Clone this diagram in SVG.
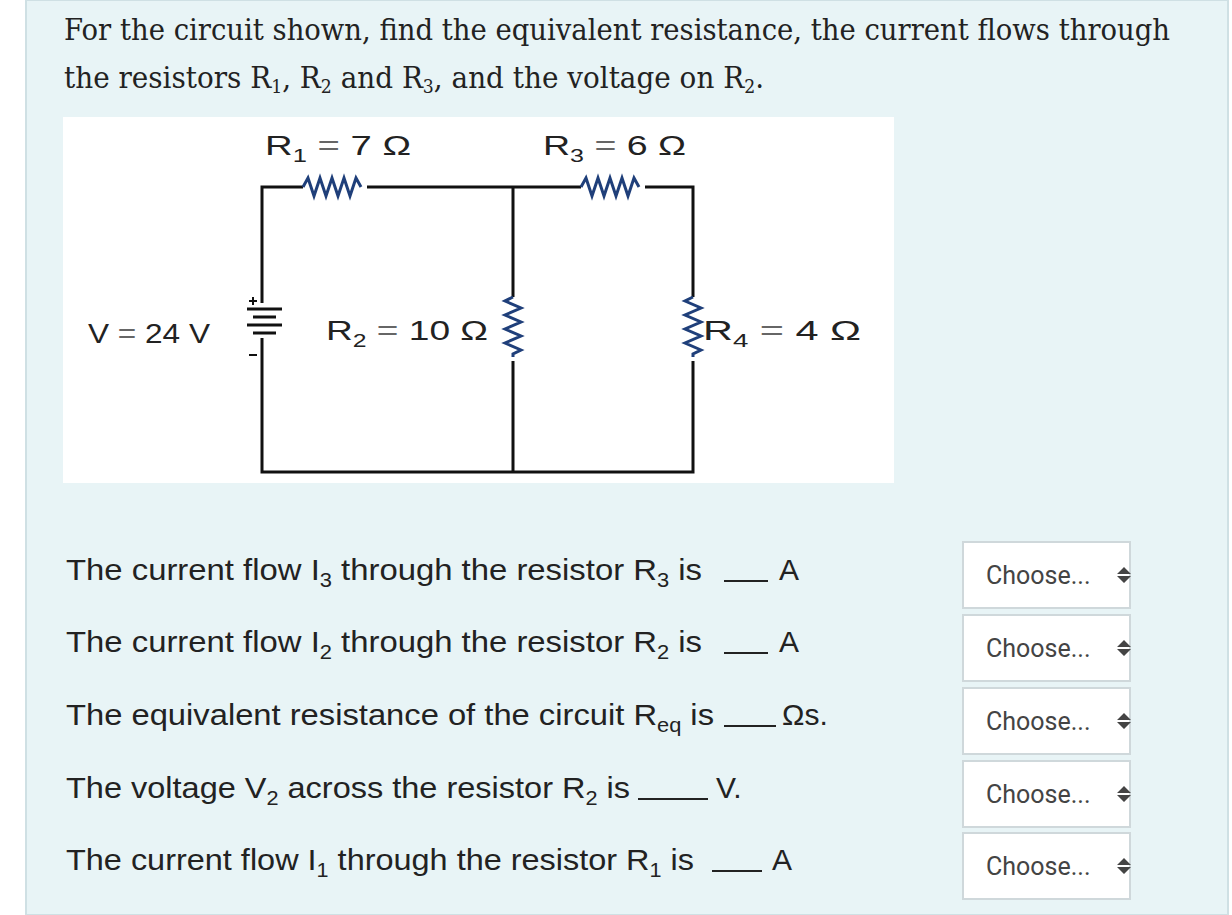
<svg xmlns="http://www.w3.org/2000/svg" width="1232" height="915" viewBox="0 0 1232 915">
<style>
.q{font-family:"DejaVu Serif","Liberation Serif",serif;font-size:29px;fill:#222}
.t{font-family:"Liberation Sans",Arial,sans-serif;font-size:30px;fill:#222}
.c{font-family:"Liberation Sans",Arial,sans-serif;font-size:27px;fill:#222}
.w{fill:none;stroke:#111;stroke-width:3}
.r{fill:none;stroke:#1f3f7a;stroke-width:3;stroke-linejoin:miter}
.box{fill:#fff;stroke:#cfd8db;stroke-width:2}
.ch{font-family:"Roboto","Liberation Sans",sans-serif;font-size:25px;fill:#444}
.ar{fill:#444}
</style>
<rect width="1232" height="915" fill="#fff"/>
<rect x="26" y="0" width="1202" height="915" fill="#e8f4f6" stroke="#cfe0e4" stroke-width="2"/>
<text class="q" x="64" y="40" textLength="1106" lengthAdjust="spacingAndGlyphs">For the circuit shown, find the equivalent resistance, the current flows through</text>
<text class="q" x="64" y="88" textLength="700" lengthAdjust="spacingAndGlyphs">the resistors R<tspan font-size="18" dy="5">1</tspan><tspan dy="-5">, R</tspan><tspan font-size="18" dy="5">2</tspan><tspan dy="-5"> and R</tspan><tspan font-size="18" dy="5">3</tspan><tspan dy="-5">, and the voltage on R</tspan><tspan font-size="18" dy="5">2</tspan><tspan dy="-5">.</tspan></text>
<g id="circuit">
<rect x="63" y="117" width="831" height="366" fill="#fff"/>
<g id="wires">
<path class="w" d="M262,303 V187 H303 M367,187 H581 M645,187 H693 V297 M693,361 V472 H262 V338 M513,187 V297 M513,361 V472"/>
</g>
<g id="R1"><path class="r" d="M303,187 l5,-9 l6,18 l6,-18 l6,18 l6,-18 l6,18 l6,-18 l6,18 l6,-18 l5,9"/><text class="c" x="265" y="155" textLength="146" lengthAdjust="spacingAndGlyphs">R<tspan font-size="18" dy="7">1</tspan><tspan dy="-7" fill="#666"> = </tspan>7 Ω</text></g>
<g id="R3"><path class="r" d="M581,187 l5,-9 l6,18 l6,-18 l6,18 l6,-18 l6,18 l6,-18 l6,18 l6,-18 l5,9"/><text class="c" x="543" y="155" textLength="143" lengthAdjust="spacingAndGlyphs">R<tspan font-size="18" dy="7">3</tspan><tspan dy="-7" fill="#666"> = </tspan>6 Ω</text></g>
<g id="R2"><path class="r" d="M513,297 l-8,4 l16,7 l-16,7 l16,7 l-16,7 l16,7 l-16,7 l16,7 l-8,4 v3"/><text class="c" x="326" y="340" textLength="162" lengthAdjust="spacingAndGlyphs">R<tspan font-size="18" dy="7">2</tspan><tspan dy="-7" fill="#666"> = </tspan>10 Ω</text></g>
<g id="R4"><path class="r" d="M693,297 l-8,4 l16,7 l-16,7 l16,7 l-16,7 l16,7 l-16,7 l16,7 l-8,4 v3"/><text class="c" x="703" y="340" textLength="158" lengthAdjust="spacingAndGlyphs">R<tspan font-size="18" dy="7">4</tspan><tspan dy="-7" fill="#666"> = </tspan>4 Ω</text></g>
<g id="battery">
<path class="w" d="M247,309 H282 M253,317 H276 M247,325 H282 M253,333 H276"/>
<path d="M249,301 H257 M253,297 V305 M249,355 H257" stroke="#111" stroke-width="2"/>
<text class="c" x="88" y="343" textLength="122" lengthAdjust="spacingAndGlyphs">V<tspan fill="#666"> = </tspan>24 V</text>
</g>
</g>
<g id="questions">
<text class="t" x="66" y="580" textLength="636" lengthAdjust="spacingAndGlyphs">The current flow I<tspan font-size="20" dy="7">3</tspan><tspan dy="-7"> through the resistor R</tspan><tspan font-size="20" dy="7">3</tspan><tspan dy="-7"> is</tspan></text>
<line x1="724" y1="581" x2="768" y2="581" stroke="#222" stroke-width="2"/><text class="t" x="779" y="580">A</text>
<text class="t" x="66" y="652" textLength="636" lengthAdjust="spacingAndGlyphs">The current flow I<tspan font-size="20" dy="7">2</tspan><tspan dy="-7"> through the resistor R</tspan><tspan font-size="20" dy="7">2</tspan><tspan dy="-7"> is</tspan></text>
<line x1="724" y1="653" x2="768" y2="653" stroke="#222" stroke-width="2"/><text class="t" x="779" y="652">A</text>
<text class="t" x="66" y="725" textLength="648" lengthAdjust="spacingAndGlyphs">The equivalent resistance of the circuit R<tspan font-size="20" dy="7">eq</tspan><tspan dy="-7"> is</tspan></text>
<line x1="724" y1="726" x2="776" y2="726" stroke="#222" stroke-width="2"/><text class="t" x="782" y="725">Ωs.</text>
<text class="t" x="66" y="798" textLength="564" lengthAdjust="spacingAndGlyphs">The voltage V<tspan font-size="20" dy="7">2</tspan><tspan dy="-7"> across the resistor R</tspan><tspan font-size="20" dy="7">2</tspan><tspan dy="-7"> is</tspan></text>
<line x1="638" y1="799" x2="708" y2="799" stroke="#222" stroke-width="2"/><text class="t" x="716" y="798">V.</text>
<text class="t" x="66" y="870" textLength="628" lengthAdjust="spacingAndGlyphs">The current flow I<tspan font-size="20" dy="7">1</tspan><tspan dy="-7"> through the resistor R</tspan><tspan font-size="20" dy="7">1</tspan><tspan dy="-7"> is</tspan></text>
<line x1="712" y1="871" x2="762" y2="871" stroke="#222" stroke-width="2"/><text class="t" x="772" y="870">A</text>
</g>
<g id="dd1"><rect class="box" x="963" y="542" width="167" height="66"/><text class="ch" x="986" y="584">Choose...</text><path class="ar" d="M1124,567 l-7,7 h14z M1124,583 l-7,-7 h14z"/></g>
<g id="dd2"><rect class="box" x="963" y="615" width="167" height="66"/><text class="ch" x="986" y="657">Choose...</text><path class="ar" d="M1124,640 l-7,7 h14z M1124,656 l-7,-7 h14z"/></g>
<g id="dd3"><rect class="box" x="963" y="688" width="167" height="66"/><text class="ch" x="986" y="730">Choose...</text><path class="ar" d="M1124,713 l-7,7 h14z M1124,729 l-7,-7 h14z"/></g>
<g id="dd4"><rect class="box" x="963" y="761" width="167" height="66"/><text class="ch" x="986" y="803">Choose...</text><path class="ar" d="M1124,786 l-7,7 h14z M1124,802 l-7,-7 h14z"/></g>
<g id="dd5"><rect class="box" x="963" y="833" width="167" height="66"/><text class="ch" x="986" y="875">Choose...</text><path class="ar" d="M1124,858 l-7,7 h14z M1124,874 l-7,-7 h14z"/></g>
</svg>
